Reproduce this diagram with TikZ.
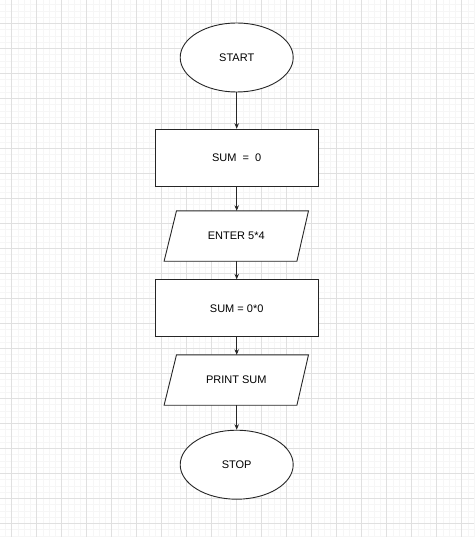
\documentclass[tikz,border=0pt]{standalone}
\usepackage{fontspec}
\setmainfont{Liberation Sans}
\usetikzlibrary{shapes.geometric,arrows.meta}
\tikzset{
  flowline/.style={draw=black!85, line width=0.9pt},
  termbox/.style={ellipse, flowline, fill=white, inner sep=0pt, minimum width=113pt, minimum height=69pt, font=\fontsize{11}{13}\selectfont},
  procbox/.style={rectangle, flowline, fill=white, inner sep=0pt, minimum width=163pt, minimum height=57pt, font=\fontsize{11}{13}\selectfont},
  iobox/.style={rectangle, draw=none, inner sep=0pt, minimum width=144pt, minimum height=50pt, font=\fontsize{11}{13}\selectfont},
  conn/.style={flowline, -{Stealth[length=5.5pt,width=4.5pt]}},
  minorgrid/.style={draw={rgb,255:red,246;green,246;blue,246}, line width=0.5pt},
  majorgrid/.style={draw={rgb,255:red,224;green,224;blue,224}, line width=0.7pt}
}
\newcommand{\paragram}[1]{%
  \draw[flowline, fill=white] ([xshift=12.4pt]#1.north west) -- (#1.north east)
    -- ([xshift=-11.6pt]#1.south east) -- (#1.south west) -- cycle;}
\begin{document}
\begin{tikzpicture}[x=1pt, y=-1pt]
\useasboundingbox (0,0) rectangle (474,537);
\fill[white] (0,0) rectangle (474,537);
% grid
\foreach \k in {0,...,80} {
  \pgfmathsetmacro{\gx}{-13.3+6.25*\k}
  \draw[minorgrid] (\gx,0) -- (\gx,537);
}
\foreach \k in {0,...,90} {
  \pgfmathsetmacro{\gy}{-1.7+6.25*\k}
  \draw[minorgrid] (0,\gy) -- (474,\gy);
}
\foreach \k in {0,...,19} {
  \pgfmathsetmacro{\gx}{11.7+25*\k}
  \draw[majorgrid] (\gx,0) -- (\gx,537);
}
\foreach \k in {0,...,21} {
  \pgfmathsetmacro{\gy}{23.3+25*\k}
  \draw[majorgrid] (0,\gy) -- (474,\gy);
}
% shapes
\node[termbox] (start) at (236.7,57.5) {START};
\node[procbox] (sum0) at (236.7,157.7) {SUM\ \ =\ \ 0};
\node[iobox] (enter) at (236.3,236) {};
\paragram{enter}
\node[font=\fontsize{11}{13}\selectfont] at (enter.center) {ENTER 5*4};
\node[procbox] (sum00) at (236.7,308.3) {SUM = 0*0};
\node[iobox] (print) at (236.3,380) {};
\paragram{print}
\node[font=\fontsize{11}{13}\selectfont] at (print.center) {PRINT SUM};
\node[termbox] (stop) at (236.7,464.7) {STOP};
% connectors
\draw[conn] (start.south) -- (start.south |- sum0.north);
\draw[conn] (sum0.south) -- (sum0.south |- enter.north);
\draw[conn] (sum0.south |- enter.south) -- (sum00.north);
\draw[conn] (sum00.south) -- (sum00.south |- print.north);
\draw[conn] (stop.north |- print.south) -- (stop.north);
\end{tikzpicture}
\end{document}
